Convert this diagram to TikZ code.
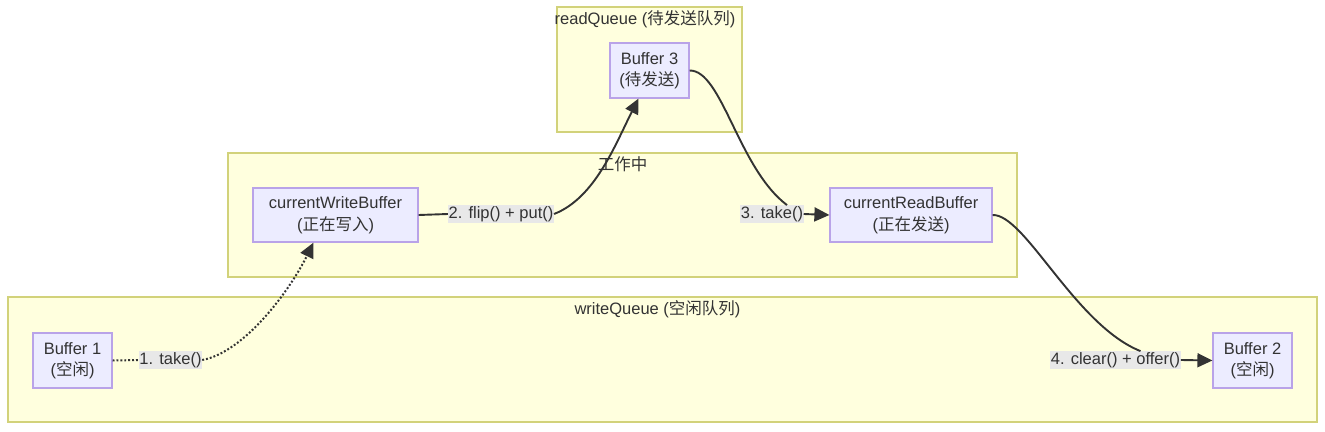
\documentclass[tikz,border=0pt]{standalone}
\usepackage{fontspec}
\setmainfont{Liberation Sans}
\newfontfamily\cjk{Noto Sans CJK SC}
\usetikzlibrary{arrows.meta}

\definecolor{clusterfill}{HTML}{FFFFDE}
\definecolor{clusterline}{HTML}{D2D27A}
\definecolor{buffill}{HTML}{ECECFF}
\definecolor{bufline}{HTML}{B9A3E8}
\definecolor{labelbg}{HTML}{E8E8E8}
\definecolor{edgegray}{HTML}{333333}

\begin{document}
\begin{tikzpicture}[x=1pt, y=-1pt,
	font=\fontsize{16.5}{21.5}\selectfont, text=edgegray,
	cluster/.style={draw=clusterline, fill=clusterfill, line width=1.2pt},
	buf/.style={draw=bufline, fill=buffill, line width=1.2pt, align=center, inner sep=0pt},
	elabel/.style={fill=labelbg, inner xsep=0.5pt, inner ysep=1pt},
	flow/.style={draw=edgegray, line width=1.9pt},
	dotflow/.style={flow, dotted, line width=2pt},
	tip/.style={-{Triangle[length=15pt,width=14pt]}}]

	\useasboundingbox (0,0) rectangle (1325,431);

	% groups
	\draw[cluster] (557,7) rectangle (742,132);
	\node (readq) at (645,19) {readQueue ({\cjk 待发送队列})};
	\draw[cluster] (228,153) rectangle (1017,277);
	\node (work) at (622.5,164) {\cjk 工作中};
	\draw[cluster] (8,297) rectangle (1317,422);
	\node (writeq) at (657.5,309) {writeQueue ({\cjk 空闲队列})};

	% buffers
	\node[buf, minimum width=79pt, minimum height=55pt] (b3) at (649.5,70.5) {Buffer 3\\({\cjk 待发送})};
	\node[buf, minimum width=165pt, minimum height=54pt] (cwb) at (335.5,215) {currentWriteBuffer\\({\cjk 正在写入})};
	\node[buf, minimum width=162pt, minimum height=54pt] (crb) at (911,215) {currentReadBuffer\\({\cjk 正在发送})};
	\node[buf, minimum width=79pt, minimum height=55pt] (b1) at (72.5,360.5) {Buffer 1\\({\cjk 空闲})};
	\node[buf, minimum width=79pt, minimum height=55pt] (b2) at (1252.5,360.5) {Buffer 2\\({\cjk 空闲})};

	% edge labels
	\node[elabel] (l1) at (170.5,360) {1. take()};
	\node[elabel] (l2) at (501,214) {2. flip() + put()};
	\node[elabel] (l3) at (772,214) {3. take()};
	\node[elabel] (l4) at (1115.5,360) {4. clear() + offer()};

	\draw[dotflow] (b1.east) -- (l1.west);
	\draw[dotflow, tip] (l1.east) .. controls (245,352) and (290,290) .. ([xshift=-22pt]cwb.south);
	\draw[flow] (cwb.east) -- (l2.west);
	\draw[flow, tip] (l2.east) .. controls (595,198) and (615,145) .. ([xshift=-11pt]b3.south);
	\draw[flow] (b3.east) .. controls (722,70) and (738,168) .. ([xshift=15pt]l3.north);
	\draw[flow, tip] (l3.east) -- (crb.west);
	\draw[flow] (crb.east) .. controls (1025,214) and (1075,325) .. ([xshift=25pt]l4.north);
	\draw[flow, tip] (l4.east) -- (b2.west);

\end{tikzpicture}
\end{document}
